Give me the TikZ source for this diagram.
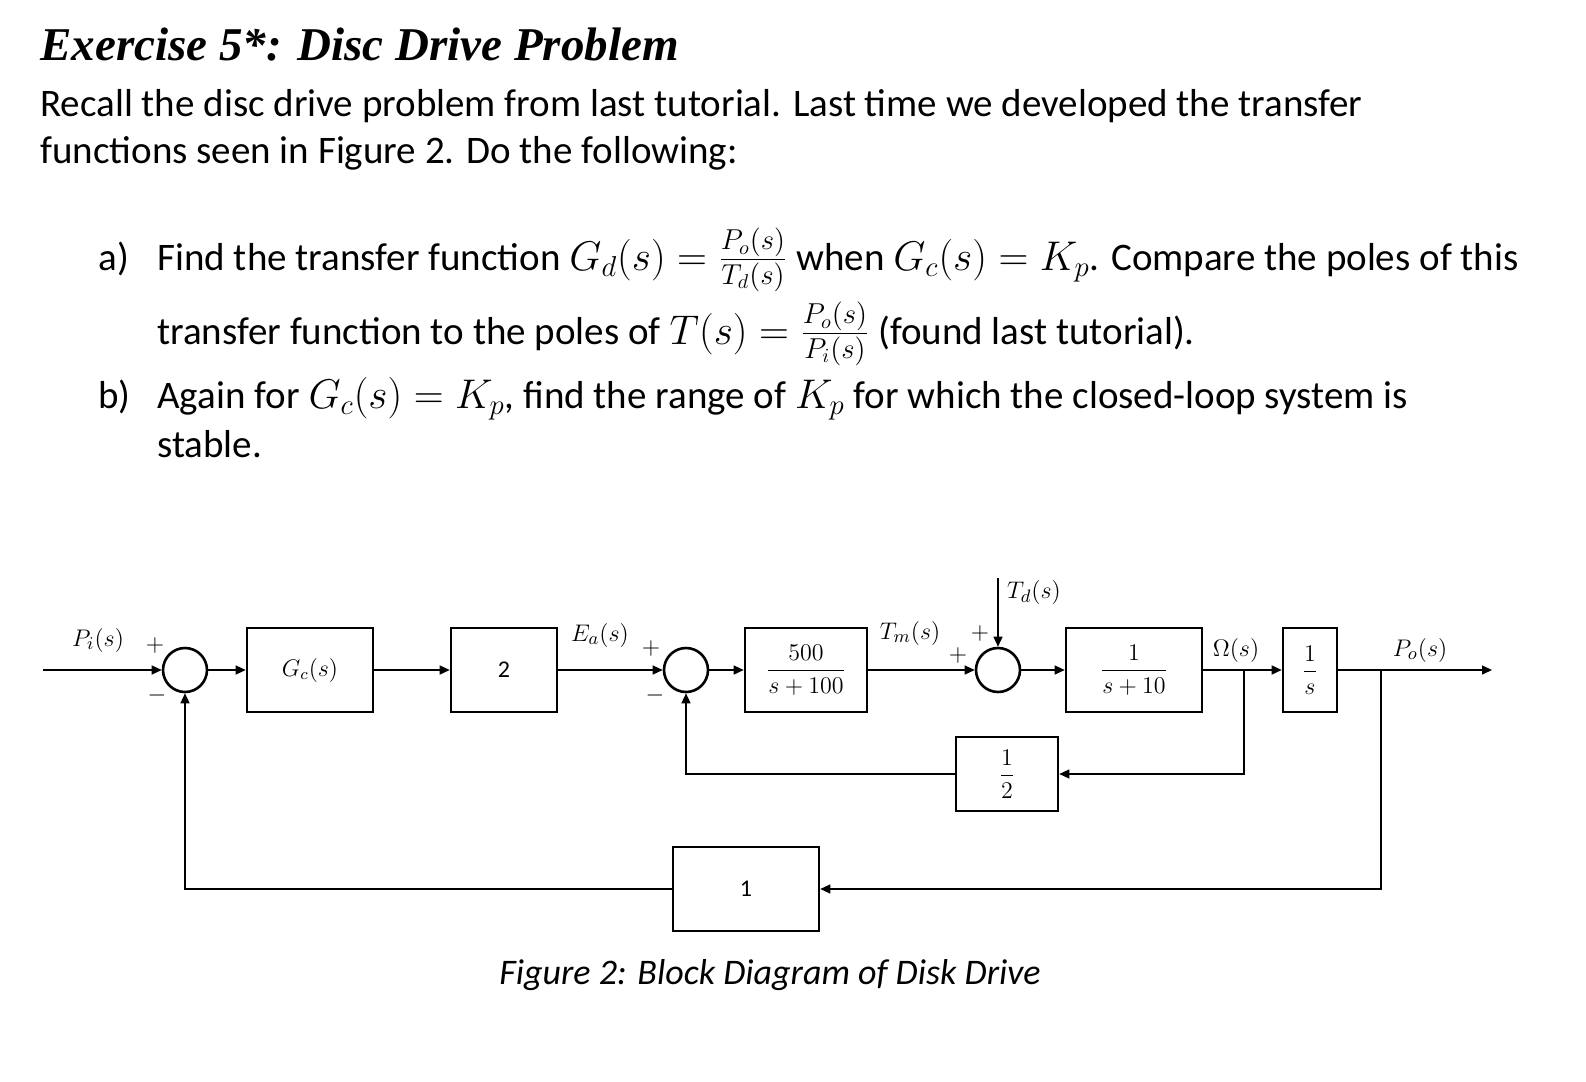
\documentclass[tikz,border=0pt]{standalone}
\usepackage{amsmath}
\usepackage{fontspec}
\setmainfont{Carlito}
\newfontfamily\titlefont{Liberation Serif}
\usetikzlibrary{arrows.meta}
\begin{document}
\begin{tikzpicture}[x=0.5pt,y=-0.5pt,
  blk/.style={draw,line width=1.3pt,minimum height=42pt,inner sep=0pt,font=\fontsize{12}{14}\selectfont},
  sum/.style={draw,circle,line width=1.3pt,minimum size=22pt,inner sep=0pt},
  sig/.style={-{Triangle[length=5pt,width=4.5pt]},line width=0.7pt},
  lab/.style={font=\fontsize{13}{15}\selectfont},
  body/.style={font=\fontsize{19.5}{22}\selectfont,anchor=base west,inner sep=0pt}]
\useasboundingbox (0,0) rectangle (1586,1082);
\node[anchor=base west,inner sep=0pt,font=\titlefont\fontsize{23.5}{26}\selectfont\bfseries\itshape] (title) at (40,60) {Exercise 5*: Disc Drive Problem};
\node[body] (p1) at (40,116) {Recall the disc drive problem from last tutorial. Last time we developed the transfer};
\node[body] (p2) at (40,163) {functions seen in Figure 2. Do the following:};
\node[body] (a) at (98,270) {a)};
\node[body] (a1) at (157,270) {Find the transfer function $G_d(s)=\frac{P_o(s)}{T_d(s)}$ when $G_c(s)=K_p$. Compare the poles of this};
\node[body] (a2) at (157,344) {transfer function to the poles of $T(s)=\frac{P_o(s)}{P_i(s)}$ (found last tutorial).};
\node[body] (b) at (98,408) {b)};
\node[body] (b1) at (157,408) {Again for $G_c(s)=K_p$, find the range of $K_p$ for which the closed-loop system is};
\node[body] (b2) at (157,457) {stable.};

\node[sum] (s1) at (185,670) {};
\node[blk,minimum width=63pt] (gc) at (310,670) {$G_c(s)$};
\node[blk,minimum width=53pt] (k2) at (504,670) {2};
\node[sum] (s2) at (686,670) {};
\node[blk,minimum width=61pt] (g500) at (806,670) {$\dfrac{500}{s+100}$};
\node[sum] (s3) at (998,670) {};
\node[blk,minimum width=68pt] (g10) at (1134,670) {$\dfrac{1}{s+10}$};
\node[blk,minimum width=27pt] (int) at (1310,670) {$\dfrac{1}{s}$};
\node[blk,minimum width=51pt,minimum height=37pt] (half) at (1007,774) {$\dfrac{1}{2}$};
\node[blk,minimum width=73pt] (one) at (746,889) {1};
\coordinate (in) at (43,670);
\coordinate (out) at (1492,670);
\coordinate (td) at (998,578);
\coordinate (bo) at (1244,670);
\coordinate (bp) at (1381,670);

\draw[sig] (in) -- (s1);
\draw[sig] (s1) -- (gc);
\draw[sig] (gc) -- (k2);
\draw[sig] (k2) -- (s2);
\draw[sig] (s2) -- (g500);
\draw[sig] (g500) -- (s3);
\draw[sig] (s3) -- (g10);
\draw[sig] (g10) -- (int);
\draw[sig] (int) -- (out);
\draw[sig] (td) -- (s3);
\draw[sig] (bo) |- (half);
\draw[sig] (half) -| (s2);
\draw[sig] (bp) |- (one);
\draw[sig] (one) -| (s1);

\node[lab] (lpi) at (98,640) {$P_i(s)$};
\node[lab] at (155,645) {$+$};
\node[lab] at (157,695) {$-$};
\node[lab] (lea) at (600,635) {$E_a(s)$};
\node[lab] at (651,648) {$+$};
\node[lab] at (655,695) {$-$};
\node[lab] (ltm) at (910,633) {$T_m(s)$};
\node[lab] at (980,633) {$+$};
\node[lab] at (958,655) {$+$};
\node[lab,anchor=west] (ltd) at (1000,592) {$T_d(s)$};
\node[lab] (lom) at (1236,650) {$\Omega(s)$};
\node[lab] (lpo) at (1420,650) {$P_o(s)$};
\node[font=\fontsize{18}{21}\selectfont\itshape] (cap) at (770,975) {Figure 2: Block Diagram of Disk Drive};
\end{tikzpicture}
\end{document}
